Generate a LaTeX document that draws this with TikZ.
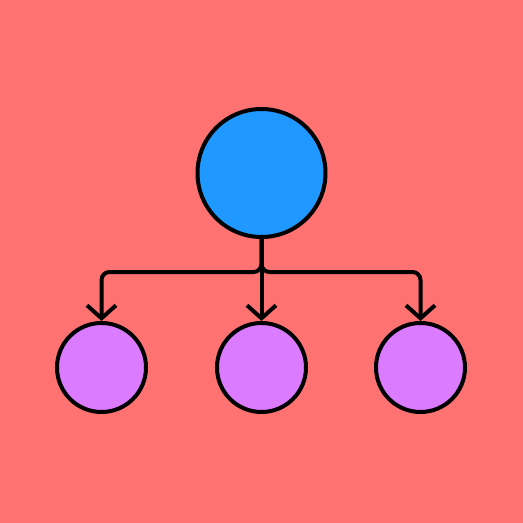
\documentclass[tikz,border=0pt]{standalone}
\usepackage{tikz}
\usetikzlibrary{arrows.meta}

\definecolor{salmon}{HTML}{FF7272}
\definecolor{rootblue}{HTML}{1F98FF}
\definecolor{leafpurple}{HTML}{DB7BFF}

\tikzset{
	root/.style={draw,circle,fill=rootblue,line width=4pt,inner sep=0,minimum size=128pt},
	leaf/.style={draw,circle,fill=leafpurple,line width=4pt,inner sep=0,minimum size=89pt},
	link/.style={line width=4pt,rounded corners=8pt,-{Straight Barb[length=13pt,width=29pt]}}
}

\begin{document}
\begin{tikzpicture}[x=1pt,y=-1pt]
	\fill[salmon] (0,0) rectangle (523,523);
	\useasboundingbox (0,0) rectangle (523,523);
	\node[root] (1) at (261.5,173) {};
	\node[leaf] (2) at (101.5,367.5) {};
	\node[leaf] (3) at (261.5,367.5) {};
	\node[leaf] (4) at (420.5,367.5) {};
	\coordinate (j) at (261.5,272);
	\draw[link] (1.south) -- (j) -| (2.north);
	\draw[link] (1.south) -- (j) -| (4.north);
	\draw[link] (1) -- (3);
\end{tikzpicture}
\end{document}
